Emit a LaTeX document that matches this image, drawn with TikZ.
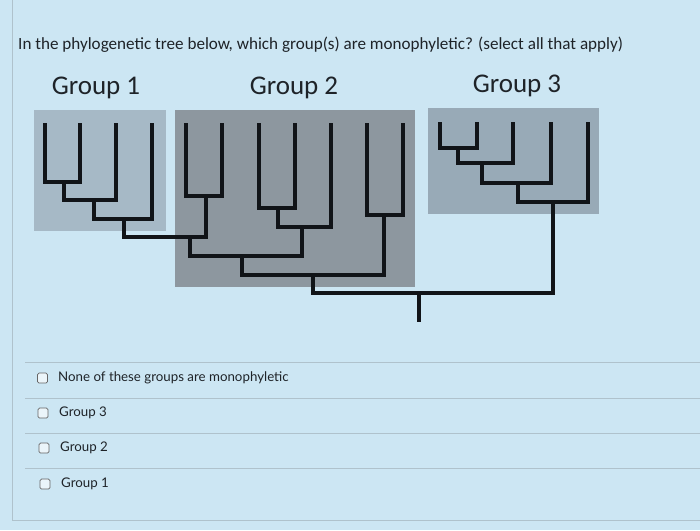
\documentclass[tikz,border=0pt]{standalone}
\usepackage{fontspec}
\setmainfont{Carlito}
\newfontfamily\optfont{Lato}
\definecolor{bgblue}{HTML}{CCE6F3}
\definecolor{gone}{HTML}{A6B9C6}
\definecolor{gtwo}{HTML}{8D979F}
\definecolor{gthree}{HTML}{98AAB7}
\definecolor{treeink}{HTML}{111418}
\definecolor{sepgray}{HTML}{AFC2CC}
\definecolor{txt}{HTML}{1E2328}
\tikzset{
  branch/.style={draw=treeink, line width=3.5pt, line cap=butt, line join=miter},
  boxone/.style={fill=gone, draw=none},
  boxtwo/.style={fill=gtwo, draw=none},
  boxthree/.style={fill=gthree, draw=none},
  sepline/.style={draw=sepgray, line width=0.8pt},
  checkbox/.style={draw=gray!80!black, line width=0.7pt, rounded corners=1.5pt, minimum width=10pt, minimum height=10pt, inner sep=0pt, fill=white!60!bgblue},
  opttext/.style={font=\optfont\fontsize{13.3}{15}\selectfont, text=txt, anchor=west, inner sep=0pt},
  grouplabel/.style={font=\fontsize{27}{30}\selectfont, text=txt, inner sep=0pt},
}
\begin{document}
\begin{tikzpicture}[x=1pt,y=-1pt]
\useasboundingbox (0,0) rectangle (700,530);
\fill[bgblue] (0,0) rectangle (700,530);
% faint frame
\draw[sepgray, line width=0.8pt] (12,0) -- (12,520) -- (700,520);
% title
\node[font=\fontsize{17.1}{20}\selectfont, text=txt, anchor=west, inner sep=0pt] (title) at (18,45) {In the phylogenetic tree below, which group(s) are monophyletic? (select all that apply)};
% group labels
\node[grouplabel] (lab1) at (96,88) {Group 1};
\node[grouplabel] (lab2) at (294,88) {Group 2};
\node[grouplabel] (lab3) at (517,86) {Group 3};
% group boxes
\fill[boxone] (34,110) rectangle (166,231);
\fill[boxtwo] (175,110) rectangle (415,287);
\fill[boxthree] (428,108) rectangle (599,214);
% leaves
\coordinate (l1) at (45,123);
\coordinate (l2) at (80,123);
\coordinate (l3) at (116,123);
\coordinate (l4) at (152,123);
\coordinate (l5) at (186,123);
\coordinate (l6) at (222,123);
\coordinate (l7) at (259,123);
\coordinate (l8) at (295,123);
\coordinate (l9) at (331,123);
\coordinate (l10) at (367,123);
\coordinate (l11) at (403,123);
\coordinate (m1) at (440,122);
\coordinate (m2) at (477,122);
\coordinate (m3) at (513,122);
\coordinate (m4) at (551,122);
\coordinate (m5) at (588,122);
% internal nodes
\coordinate (n12) at (64,182);
\coordinate (n123) at (94,200);
\coordinate (n1234) at (124,219);
\coordinate (n56) at (206,196);
\coordinate (nA) at (190,237);
\coordinate (n78) at (278,208);
\coordinate (n789) at (302,227);
\coordinate (nB) at (242,256);
\coordinate (n1011) at (384,215);
\coordinate (nC) at (313,275);
\coordinate (k12) at (458,148);
\coordinate (k123) at (482,163);
\coordinate (k1234) at (518,183);
\coordinate (k12345) at (553,202);
\coordinate (root) at (419,293);
\coordinate (rootend) at (419,322);
% branches
\draw[branch] (l1) |- (n12) -| (l2);
\draw[branch] (n12) |- (n123) -| (l3);
\draw[branch] (n123) |- (n1234) -| (l4);
\draw[branch] (l5) |- (n56) -| (l6);
\draw[branch] (n1234) |- (nA) -| (n56);
\draw[branch] (l7) |- (n78) -| (l8);
\draw[branch] (n78) |- (n789) -| (l9);
\draw[branch] (nA) |- (nB) -| (n789);
\draw[branch] (l10) |- (n1011) -| (l11);
\draw[branch] (nB) |- (nC) -| (n1011);
\draw[branch] (m1) |- (k12) -| (m2);
\draw[branch] (k12) |- (k123) -| (m3);
\draw[branch] (k123) |- (k1234) -| (m4);
\draw[branch] (k1234) |- (k12345) -| (m5);
\draw[branch] (nC) |- (root) -| (k12345);
\draw[branch] (root) -- (rootend);
% separators
\draw[sepline] (25,362) -- (700,362);
\draw[sepline] (25,398) -- (700,398);
\draw[sepline] (25,433) -- (700,433);
\draw[sepline] (25,468) -- (700,468);
% options
\node[checkbox] (cb1) at (42.5,378) {};
\node[opttext] (o1) at (58,378) {None of these groups are monophyletic};
\node[checkbox] (cb2) at (43,413) {};
\node[opttext] (o2) at (59,413) {Group 3};
\node[checkbox] (cb3) at (44,448) {};
\node[opttext] (o3) at (60,448) {Group 2};
\node[checkbox] (cb4) at (45,484) {};
\node[opttext] (o4) at (61,484) {Group 1};
\end{tikzpicture}
\end{document}
